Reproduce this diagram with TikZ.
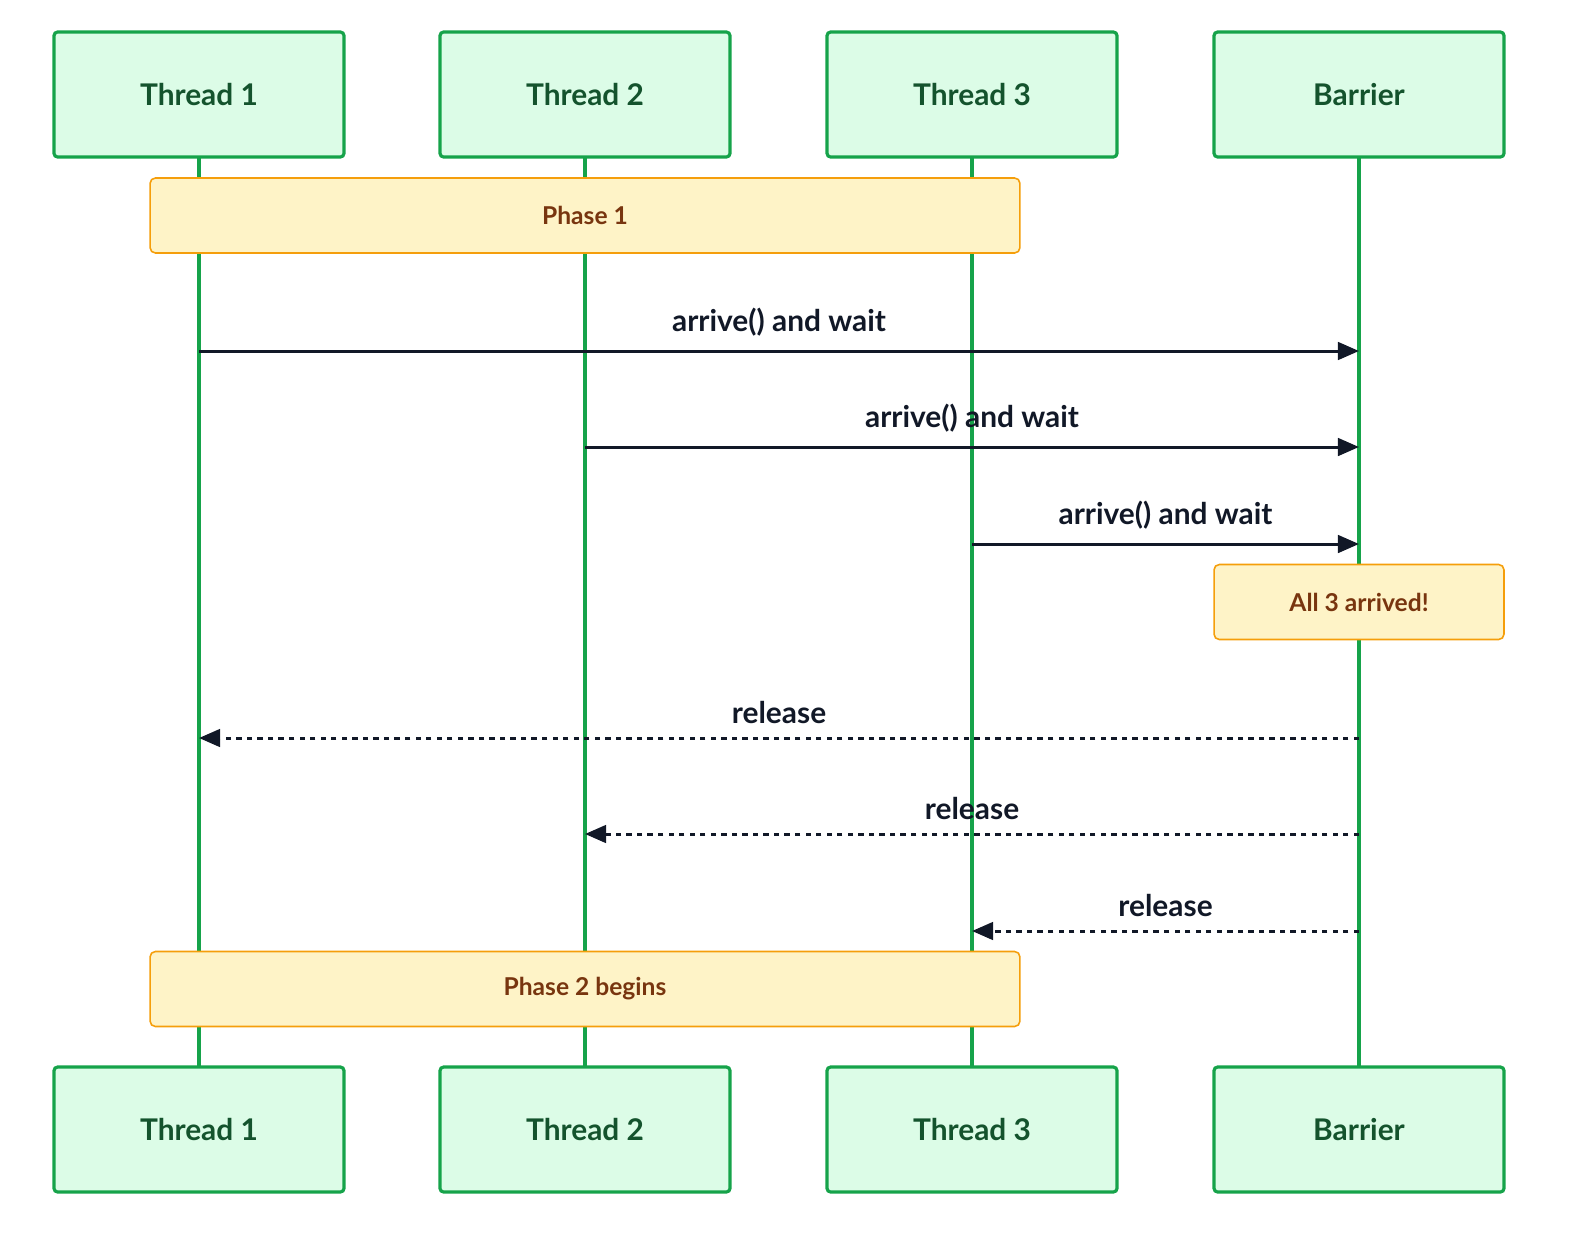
\documentclass[tikz,border=0pt]{standalone}
\usepackage{fontspec}
\setmainfont{Lato}
\usetikzlibrary{positioning,arrows.meta}
\definecolor{boxfill}{HTML}{DCFCE7}
\definecolor{boxline}{HTML}{16A34A}
\definecolor{boxtext}{HTML}{14532D}
\definecolor{notefill}{HTML}{FEF3C7}
\definecolor{noteline}{HTML}{F59E0B}
\definecolor{notetext}{HTML}{78350F}
\definecolor{msg}{HTML}{111827}
\begin{document}
\begin{tikzpicture}[x=0.02cm,y=-0.02cm,
  actor/.style={draw=boxline,fill=boxfill,line width=1.8pt,rounded corners=2pt,minimum width=5.8cm,minimum height=2.5cm,text=boxtext,font=\fontsize{17}{20}\selectfont\bfseries},
  note/.style={draw=noteline,fill=notefill,line width=0.9pt,rounded corners=3pt,minimum height=1.5cm,text=notetext,font=\fontsize{14}{17}\selectfont\bfseries},
  call/.style={draw=msg,line width=1.7pt,-{Triangle[length=12pt,width=10pt]}},
  reply/.style={call,dash pattern=on 3pt off 3pt},
  lbl/.style={above=4pt,text=msg,font=\fontsize{17}{20}\selectfont\bfseries}]
\useasboundingbox (0,0) rectangle (1592,1238);
% lifelines
\foreach \n/\x/\t in {t1/199/Thread 1,t2/585/Thread 2,t3/972/Thread 3,b/1359/Barrier}{
  \draw[boxline,line width=1.8pt] (\x,157) -- (\x,1067);
  \node[actor] (\n top) at (\x,94.5) {\t};
  \node[actor] (\n bot) at (\x,1129.5) {\t};
  \foreach \y/\k in {351/1,447/2,544/3,738/4,834/5,931/6}
    \coordinate (\n\k) at (\x,\y);
}
\node[note,minimum width=17.4cm] (phase1) at (585,215.5) {Phase 1};
\node[note,minimum width=5.8cm] (arrived) at (1359,602) {All 3 arrived!};
\node[note,minimum width=17.4cm] (phase2) at (585,989) {Phase 2 begins};
% messages
\draw[call] (t11) -- node[lbl] {arrive() and wait} (b1);
\draw[call] (t22) -- node[lbl] {arrive() and wait} (b2);
\draw[call] (t33) -- node[lbl] {arrive() and wait} (b3);
\draw[reply] (b4) -- node[lbl] {release} (t14);
\draw[reply] (b5) -- node[lbl] {release} (t25);
\draw[reply] (b6) -- node[lbl] {release} (t36);
\end{tikzpicture}
\end{document}
